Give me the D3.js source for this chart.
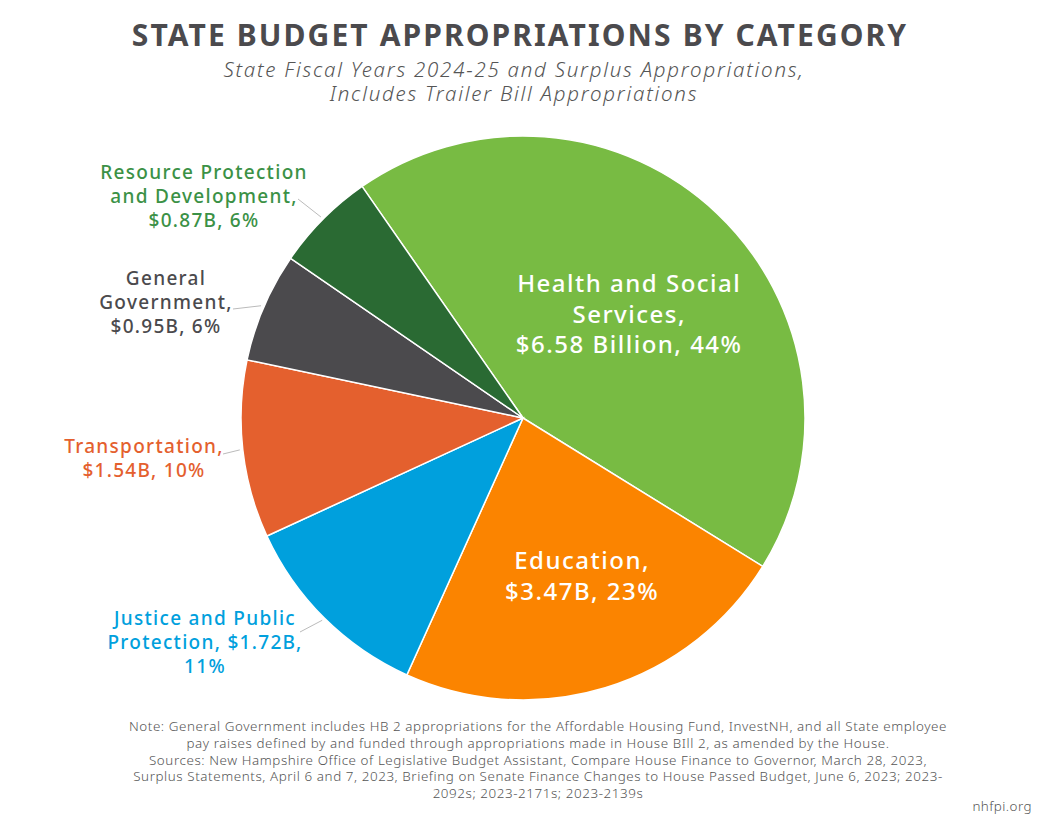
<!DOCTYPE html>
<html>
<head>
<meta charset="utf-8">
<script src="https://cdn.jsdelivr.net/npm/d3@7"></script>
<style>
  body { margin: 0; background: #fff; }
  svg text { font-family: "Noto Sans", "Open Sans", sans-serif; }
</style>
</head>
<body>
<svg id="chart" width="1047" height="824"></svg>
<script>
// data
var categories = ["Health and Social Services", "Education", "Justice and Public Protection",
                  "Transportation", "General Government", "Resource Protection and Development"];
var values = [6.58, 3.47, 1.72, 1.54, 0.95, 0.87];
var percents = ["44%", "23%", "11%", "10%", "6%", "6%"];
var labelLines = [
    ["Health and Social", "Services,", "$6.58 Billion, 44%"],
    ["Education,", "$3.47B, 23%"],
    ["Justice and Public", "Protection, $1.72B,", "11%"],
    ["Transportation,", "$1.54B, 10%"],
    ["General", "Government,", "$0.95B, 6%"],
    ["Resource Protection", "and Development,", "$0.87B, 6%"]
];
var colors = ["#78bb43", "#fb8400", "#00a0dd", "#e4602e", "#4b4a4d", "#2a6a33"];
var labelColors = ["#ffffff", "#ffffff", "#00a0dd", "#e4602e", "#4b4a4d", "#3b9146"];
var noteLines = [
    "Note: General Government includes HB 2 appropriations for the Affordable Housing Fund, InvestNH, and all State employee",
    "pay raises defined by and funded through appropriations made in House BIll 2, as amended by the House.",
    "Sources: New Hampshire Office of Legislative Budget Assistant, Compare House Finance to Governor, March 28, 2023,",
    "Surplus Statements, April 6 and 7, 2023, Briefing on Senate Finance Changes to House Passed Budget, June 6, 2023; 2023-",
    "2092s; 2023-2171s; 2023-2139s"
];

var svg = d3.select("#chart");
var cx = 523, cy = 418, radius = 282;

// title block
svg.append("text")
    .attr("x", 520).attr("y", 46)
    .attr("text-anchor", "middle")
    .attr("font-size", 30).attr("font-weight", 700)
    .attr("letter-spacing", 2.1)
    .attr("fill", "#4b4a4d")
    .text("STATE BUDGET APPROPRIATIONS BY CATEGORY");

svg.append("text")
    .attr("text-anchor", "middle")
    .attr("font-size", 20.5).attr("font-style", "italic").attr("font-weight", 300)
    .attr("letter-spacing", 1.75)
    .attr("fill", "#555")
    .selectAll("tspan")
    .data(["State Fiscal Years 2024-25 and Surplus Appropriations,", "Includes Trailer Bill Appropriations"])
    .enter().append("tspan")
    .attr("x", 514)
    .attr("y", (d, i) => 77 + i * 24)
    .text(d => d);

// pie
var startDeg = -34.8;
var pie = d3.pie().sort(null)
    .startAngle(startDeg * Math.PI / 180)
    .endAngle((startDeg + 360) * Math.PI / 180);
var arcs = pie(values);
var arc = d3.arc().innerRadius(0).outerRadius(radius);

var g = svg.append("g").attr("transform", "translate(" + cx + "," + cy + ")");

g.selectAll("path")
    .data(arcs)
    .enter().append("path")
    .attr("d", arc)
    .attr("fill", (d, i) => colors[i])
    .attr("stroke", "#fff")
    .attr("stroke-width", 1.5);

// label placement: inside labels sit on a centroid ring, outside ones get leader lines
var layout = [
    { inside: true, r: 150, dx: 3, dy: 5, size: 24, gap: 30.5 },
    { inside: true, r: 165, dx: 11, dy: 0, size: 24, gap: 31 },
    { inside: false, x: 205, y: 618, lx: 300, ly: 632 },
    { inside: false, x: 144, y: 446, lx: 223, ly: 454 },
    { inside: false, x: 166, y: 278, lx: 233, ly: 309 },
    { inside: false, x: 204, y: 172, lx: 298, ly: 199 }
];

function midAngle(d) { return (d.startAngle + d.endAngle) / 2; }

arcs.forEach(function (d, i) {
    var L = layout[i];
    var lines = labelLines[i];
    var x, y0, size, gap, ls;
    if (L.inside) {
        var c = d3.arc().innerRadius(L.r).outerRadius(L.r).centroid(d);
        size = L.size; gap = L.gap; ls = 1.5;
        x = cx + c[0] + L.dx;
        y0 = cy + c[1] + L.dy - (lines.length - 1) * gap / 2 + size * 0.36;
    } else {
        size = 19; gap = 24; ls = 1.3;
        x = L.x; y0 = L.y + 6.5;
        var a = midAngle(d);
        var ex = cx + Math.sin(a) * (radius + 3), ey = cy - Math.cos(a) * (radius + 3);
        svg.append("line")
            .attr("x1", L.lx).attr("y1", L.ly)
            .attr("x2", ex).attr("y2", ey)
            .attr("stroke", "#bbb").attr("stroke-width", 1);
    }
    svg.append("text")
        .attr("text-anchor", "middle")
        .attr("font-size", size).attr("font-weight", 500)
        .attr("letter-spacing", ls)
        .attr("fill", labelColors[i])
        .selectAll("tspan")
        .data(lines)
        .enter().append("tspan")
        .attr("x", x)
        .attr("y", (t, j) => y0 + j * gap)
        .text(t => t);
});

// notes
svg.append("text")
    .attr("text-anchor", "middle")
    .attr("font-size", 13.4).attr("font-weight", 300).attr("fill", "#555")
    .attr("letter-spacing", 0.58)
    .selectAll("tspan")
    .data(noteLines)
    .enter().append("tspan")
    .attr("x", 538)
    .attr("y", (d, i) => 731 + i * 16.8)
    .text(d => d);

svg.append("text")
    .attr("x", 1032).attr("y", 811)
    .attr("text-anchor", "end")
    .attr("font-size", 13.4).attr("font-weight", 300).attr("fill", "#555")
    .attr("letter-spacing", 0.45)
    .text("nhfpi.org");
</script>
</body>
</html>
